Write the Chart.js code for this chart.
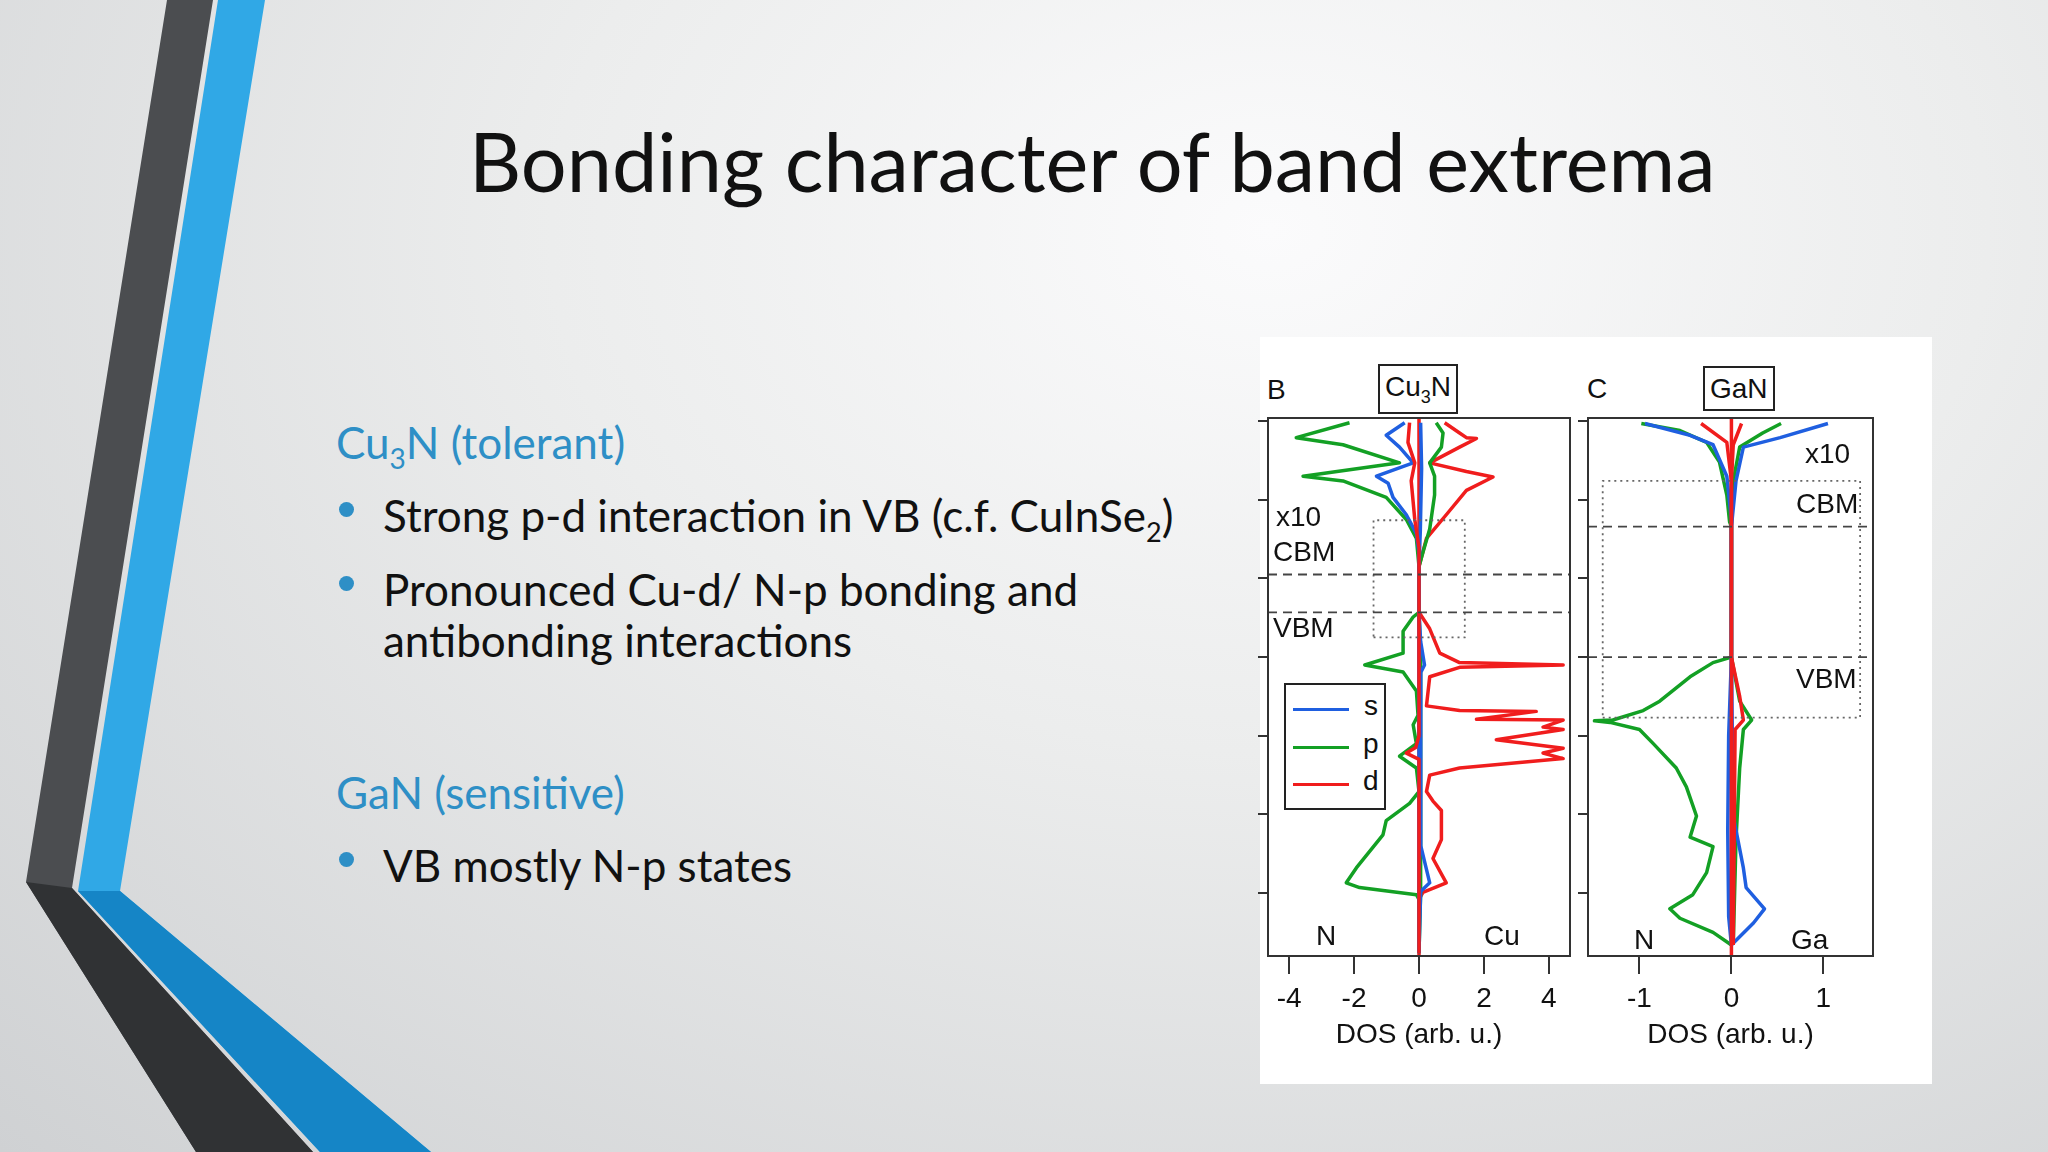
<!DOCTYPE html>
<html>
<head>
<meta charset="utf-8">
<script src="https://cdn.jsdelivr.net/npm/chart.js@4.4.0/dist/chart.umd.min.js"></script>
<style>
  body { margin: 0; width: 2048px; height: 1152px; overflow: hidden; font-family: Lato, "Open Sans", sans-serif; }
  #slide { position: absolute; left: 0; top: 0; width: 2048px; height: 1152px;
    background: radial-gradient(ellipse at 62% 20%, #fbfbfc 0%, #eceded 40%, #cfd1d3 100%); }
  .t { position: absolute; white-space: nowrap; line-height: 1; }
  .blue { color: #2e8fc6; }
  .bul { position: absolute; width: 15px; height: 15px; border-radius: 50%; background: #2e8fc6; }
  #panel { position: absolute; left: 1260px; top: 337px; width: 672px; height: 747px; background: #fff; }
  .lab { position: absolute; font-family: "Liberation Sans", Arial, sans-serif; font-size: 28px; color: #111; line-height: 1; white-space: nowrap; }
  .box { border: 2px solid #222; padding: 7px 5px 6px 5px; }
  .cw { position: absolute; }
</style>
</head>
<body>
<div id="slide">
  <svg width="2048" height="1152" style="position:absolute;left:0;top:0">
    <polygon points="167,0 213,0 72,888 313,1152 196,1152 26,882" fill="#4b4d50"/>
    <polygon points="218,0 265,0 120,891 431,1152 320,1152 78,891" fill="#30a8e6"/>
    <polygon points="78,891 120,891 431,1152 320,1152" fill="#1585c6"/>
    <polygon points="26,882 72,888 313,1152 196,1152" fill="#303234"/>
  </svg>
  <div class="t" style="left:469px;top:120px;font-size:81px;color:#111">Bonding character of band extrema</div>
  <div class="t blue" style="left:336px;top:420px;font-size:44px">Cu<sub style="font-size:28px">3</sub>N (tolerant)</div>
  <div class="bul" style="left:339px;top:502px"></div>
  <div class="t" style="left:383px;top:493px;font-size:44px;color:#111">Strong p-d interaction in VB (c.f. CuInSe<sub style="font-size:27px">2</sub>)</div>
  <div class="bul" style="left:339px;top:576px"></div>
  <div class="t" style="left:383px;top:567px;font-size:44px;color:#111">Pronounced Cu-d/ N-p bonding and</div>
  <div class="t" style="left:383px;top:618px;font-size:44px;color:#111">antibonding interactions</div>
  <div class="t blue" style="left:336px;top:770px;font-size:44px">GaN (sensitive)</div>
  <div class="bul" style="left:339px;top:852px"></div>
  <div class="t" style="left:383px;top:843px;font-size:44px;color:#111">VB mostly N-p states</div>

  <div id="panel"></div>
  <div class="cw" style="left:1258px;top:416px;width:316px;height:640px"><canvas id="cuChart"></canvas></div>
  <div class="cw" style="left:1578px;top:416px;width:299px;height:640px"><canvas id="ganChart"></canvas></div>

  <div class="lab" style="left:1267px;top:376px">B</div>
  <div class="lab box" style="left:1378px;top:364px">Cu<sub style="font-size:18px">3</sub>N</div>
  <div class="lab" style="left:1276px;top:503px">x10</div>
  <div class="lab" style="left:1273px;top:538px">CBM</div>
  <div class="lab" style="left:1273px;top:614px">VBM</div>
  <div class="lab" style="left:1316px;top:922px">N</div>
  <div class="lab" style="left:1484px;top:922px">Cu</div>
  <div style="position:absolute;left:1284px;top:683px;width:98px;height:123px;border:2px solid #222;background:#fff"></div>
  <div style="position:absolute;left:1293px;top:708px;width:56px;height:3px;background:#1f5fe0"></div>
  <div style="position:absolute;left:1293px;top:746px;width:56px;height:3px;background:#13a024"></div>
  <div style="position:absolute;left:1293px;top:783px;width:56px;height:3px;background:#f01d1d"></div>
  <div class="lab" style="left:1364px;top:692px">s</div>
  <div class="lab" style="left:1363px;top:730px">p</div>
  <div class="lab" style="left:1363px;top:767px">d</div>

  <div class="lab" style="left:1587px;top:375px">C</div>
  <div class="lab box" style="left:1703px;top:366px">GaN</div>
  <div class="lab" style="left:1805px;top:440px">x10</div>
  <div class="lab" style="left:1796px;top:490px">CBM</div>
  <div class="lab" style="left:1796px;top:665px">VBM</div>
  <div class="lab" style="left:1634px;top:926px">N</div>
  <div class="lab" style="left:1791px;top:926px">Ga</div>
</div>

<script>
// Cu3N panel: x = DOS (negative = N, positive = Cu), y = energy (arb.)
const cuNp = [[-2.14,5.98],[-3.78,5.79],[-2.34,5.70],[-0.60,5.47],[-3.57,5.30],[-2.34,5.24],[-1.01,5.03],[-0.39,4.75],[-0.08,4.51],[0,4.15],[0,3.57],[-0.18,3.51],[-0.49,3.33],[-0.49,3.05],[-1.67,2.90],[-0.49,2.81],[-0.08,2.57],[-0.03,2.26],[-0.18,2.14],[-0.08,1.90],[-0.60,1.74],[-0.08,1.59],[0,1.29],[-0.29,1.14],[-1.01,0.92],[-1.11,0.74],[-1.93,0.32],[-2.24,0.13],[-1.83,0.07],[-0.08,-0.02],[0,-0.08],[0,-0.75]];
const cuNs = [[-0.44,5.98],[-1.01,5.82],[-0.60,5.67],[-0.18,5.47],[-1.31,5.30],[-0.95,5.21],[-0.80,5.03],[-0.39,4.81],[-0.08,4.57],[0,4.33],[0,-0.75]];
const cuNd = [[-0.29,5.98],[-0.34,5.73],[-0.13,5.47],[-0.24,5.24],[-0.13,4.75],[0,4.39],[0,2.0],[-0.10,1.85],[-0.39,1.78],[0,1.70],[0,-0.75]];
const cuCup = [[0.53,5.98],[0.74,5.85],[0.69,5.67],[0.33,5.47],[0.48,5.30],[0.48,5.06],[0.33,4.63],[0.12,4.33],[0,4.15],[0,3.57],[0.05,3.0],[0.06,2.0],[0.05,1.0],[0.04,0],[0,-0.75]];
const cuCud = [[0.79,5.98],[1.25,5.85],[1.46,5.79],[1.77,5.78],[1.25,5.67],[0.33,5.47],[1.46,5.36],[2.28,5.29],[1.46,5.12],[0.84,4.81],[0.23,4.51],[0,4.15],[0,3.57],[0.33,3.36],[0.64,3.05],[1.25,2.93],[4.44,2.90],[1.25,2.87],[0.33,2.75],[0.23,2.38],[1.25,2.32],[3.61,2.31],[1.77,2.21],[4.44,2.20],[3.82,2.11],[4.44,2.08],[2.38,1.95],[4.44,1.84],[3.82,1.78],[4.44,1.71],[1.25,1.59],[0.33,1.50],[0.23,1.29],[0.43,1.17],[0.69,1.05],[0.69,0.68],[0.43,0.44],[0.84,0.13],[0.12,0.01],[0,-0.08],[0,-0.75]];
const cuCus = [[0.05,5.98],[0.08,5.4],[0.04,4.6],[0,4.15],[0,3.57],[0.05,3.2],[0.17,2.90],[0.05,2.8],[0.06,1.8],[0.05,0.6],[0.33,0.13],[0.05,0.02],[0,-0.75]];
const cuCbm = 4.05, cuVbm = 3.57;
const cuZoomBox = { x0: -1.40, x1: 1.41, y0: 3.25, y1: 4.74 };

// GaN panel
const ganNp = [[-0.98,5.97],[-0.56,5.88],[-0.27,5.73],[-0.13,5.48],[-0.05,5.06],[-0.02,4.72],[0,4.66],[0,3.0],[-0.20,2.93],[-0.45,2.75],[-0.78,2.44],[-0.96,2.32],[-1.29,2.20],[-1.49,2.19],[-1.32,2.17],[-1.0,2.08],[-0.85,1.90],[-0.60,1.59],[-0.49,1.35],[-0.38,0.98],[-0.45,0.71],[-0.20,0.59],[-0.27,0.26],[-0.42,-0.02],[-0.67,-0.20],[-0.56,-0.32],[-0.20,-0.50],[0,-0.66]];
const ganNs = [[-0.94,5.97],[-0.45,5.82],[-0.20,5.70],[-0.05,5.30],[0,4.75],[0,3.0],[-0.03,2.0],[-0.04,0.8],[-0.03,-0.3],[0,-0.66]];
const ganNd = [[-0.33,5.97],[-0.05,5.73],[0,5.24],[0,-0.66]];
const ganGap = [[0.54,5.97],[0.34,5.85],[0.09,5.67],[0.02,5.24],[0,4.69],[0,3.0],[0.09,2.44],[0.22,2.20],[0.13,2.08],[0.09,1.59],[0.05,0.68],[0.02,-0.66]];
const ganGas = [[1.05,5.97],[0.53,5.79],[0.13,5.67],[0.05,5.24],[0,4.66],[0,3.0],[0.02,0.98],[0.13,0.32],[0.16,0.07],[0.36,-0.20],[0.24,-0.38],[0,-0.66]];
const ganGad = [[0.11,5.97],[0.02,5.70],[0,5.24],[0,3.0],[0.09,2.50],[0.13,2.20],[0.04,2.08],[0.02,-0.66]];
const ganCbm = 4.66, ganVbm = 3.00;
const ganZoomBox = { x0: -1.40, x1: 1.40, y0: 2.23, y1: 5.24 };

const yMin = -0.8, yMax = 6.04;
const BLUE = '#1f5fe0', GREEN = '#13a024', RED = '#f01d1d';

const pts = arr => arr.map(p => ({ x: p[0], y: p[1] }));

const frame = {
    id: 'frame',
    afterDraw(chart) {
        const a = chart.chartArea, c = chart.ctx;
        c.save();
        c.strokeStyle = '#333';
        c.lineWidth = 2;
        c.strokeRect(a.left, a.top, a.right - a.left, a.bottom - a.top);
        c.restore();
    }
};

function makeChart(id, xr, step, series, cbm, vbm, zb) {
    const line = (data, color, extra) => Object.assign({ data: pts(data), borderColor: color, borderWidth: 3.5, pointRadius: 0, showLine: true, fill: false, tension: 0, borderJoinStyle: 'round' }, extra || {});
    const dashed = y => line([[xr[0], y], [xr[1], y]], '#444', { borderWidth: 1.8, borderDash: [9, 6] });
    const datasets = [
        dashed(cbm), dashed(vbm),
        line([[zb.x0, zb.y0], [zb.x1, zb.y0], [zb.x1, zb.y1], [zb.x0, zb.y1], [zb.x0, zb.y0]], '#666', { borderWidth: 1.8, borderDash: [2, 4] })
    ];
    series.forEach(s => datasets.push(line(s[0], s[1])));
    datasets.push(line([[0, yMax], [0, yMin]], RED));

    new Chart(document.getElementById(id), {
        type: 'scatter',
        data: { datasets: datasets },
        options: {
            responsive: true,
            maintainAspectRatio: false,
            animation: false,
            layout: { padding: { top: 2, right: 4 } },
            plugins: { legend: { display: false }, tooltip: { enabled: false } },
            scales: {
                x: {
                    min: xr[0], max: xr[1],
                    afterFit: s => { s.height = 100; },
                    ticks: { stepSize: step, includeBounds: false, color: '#111', font: { family: 'Liberation Sans', size: 28 }, padding: 8, callback: v => v },
                    grid: { drawOnChartArea: false, tickLength: 18, color: '#333', lineWidth: 2 },
                    border: { display: false },
                    title: { display: true, text: 'DOS (arb. u.)', color: '#111', font: { family: 'Liberation Sans', size: 28 }, padding: { top: -6 } }
                },
                y: {
                    min: yMin, max: yMax,
                    afterFit: s => { s.width = 10; },
                    ticks: { stepSize: 1, includeBounds: false, display: false },
                    grid: { drawOnChartArea: false, tickLength: 10, color: '#333', lineWidth: 2 },
                    border: { display: false }
                }
            }
        },
        plugins: [frame]
    });
}

makeChart('cuChart', [-4.65, 4.65], 2,
    [[cuNd, RED], [cuNs, BLUE], [cuNp, GREEN], [cuCus, BLUE], [cuCup, GREEN], [cuCud, RED]],
    cuCbm, cuVbm, cuZoomBox);
makeChart('ganChart', [-1.56, 1.54], 1,
    [[ganNd, RED], [ganGad, RED], [ganNs, BLUE], [ganGas, BLUE], [ganNp, GREEN], [ganGap, GREEN]],
    ganCbm, ganVbm, ganZoomBox);
</script>
</body>
</html>
